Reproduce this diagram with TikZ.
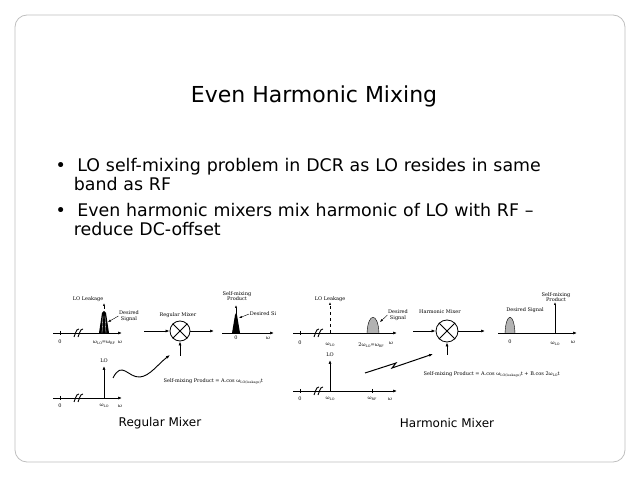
\documentclass[tikz,border=0pt]{standalone}
\usepackage{fontspec}
\setsansfont{DejaVu Sans}
\newfontfamily\tinyser{DejaVu Serif}
\usetikzlibrary{arrows.meta}
\newcommand{\sbs}[1]{\raisebox{-0.4ex}{\fontsize{3.3}{3.3}\selectfont #1}}
\begin{document}
\begin{tikzpicture}[x=1pt,y=-1pt,
  ax/.style={-{Latex[length=4pt,width=3pt]},line width=0.7pt},
  sm/.style={font=\tinyser\fontsize{5}{5.5}\selectfont,inner sep=0.5pt,align=center},
  brk/.style={line width=0.9pt},
  bul/.style={font=\sffamily\fontsize{17.4}{19}\selectfont,anchor=north west,align=left,text width=570pt},
  lbl/.style={font=\sffamily\fontsize{12}{13}\selectfont}]
\useasboundingbox (0,0) rectangle (638,478);
\draw[gray!50,rounded corners=12pt,line width=0.8pt] (15,15) rectangle (625,462);
\node[font=\sffamily\fontsize{22}{24}\selectfont] (title) at (314,96) {Even Harmonic Mixing};
\node[bul] (b1) at (52,155) {\textbullet\ \ LO self-mixing problem in DCR as LO resides in same\\\hspace*{1.05em}band as RF};
\node[bul] (b2) at (52,200) {\textbullet\ \ Even harmonic mixers mix harmonic of LO with RF --\\\hspace*{1.05em}reduce DC-offset};
\newcommand{\brksym}[2]{\draw[brk] (#1-3,#2+4) .. controls (#1,#2-4) .. (#1+2,#2-4); \draw[brk] (#1+1,#2+4) .. controls (#1+4,#2-4) .. (#1+6,#2-4);}
% ---------- left ----------
\coordinate (a1s) at (53,333); \coordinate (a1e) at (122,333);
\draw[ax] (a1s) -- (a1e);
\draw (60,331) -- (60,335); \brksym{77}{333}
\draw[dashed,line width=0.8pt,-{Latex[length=3pt]}] (104,333) -- (104,303);
\fill[black] (99,333) -- (102,313) -- (104,311) -- (106,313) -- (109,333) -- cycle;
\draw[white,line width=0.3pt] (102,333)--(103,316) (106,333)--(105,316);
\node[sm] (ll1) at (88,299) {LO Leakage};
\node[sm] (ds1) at (129,316) {Desired\\Signal};
\draw[-{Latex[length=3pt]}] (ds1.west) -- (108,322);
\node[sm] at (60,342) {0};
\node[sm] at (104,343) {ω\sbs{LO}=ω\sbs{RF}};
\node[sm] at (120,342) {ω};
% mixer
\node[draw,circle,minimum size=20pt,inner sep=0,line width=0.8pt] (m1) at (180,331) {};
\draw[line width=0.8pt] (m1.north west)--(m1.south east) (m1.north east)--(m1.south west);
\node[sm] (rm) at (178,315) {Regular Mixer};
\coordinate (m1in) at (144,331); \coordinate (m1out) at (214,331); \coordinate (m1lo) at (180,356);
\draw[ax] (m1in) -- (m1.west); \draw[ax] (m1.east) -- (m1out); \draw[ax] (m1lo) -- (m1.south);
% output spectrum 1
\draw[ax] (222,333) -- (274,333);
\draw[line width=0.8pt,-{Latex[length=3pt]}] (236,333) -- (236,305);
\fill[black] (232,333) -- (235,315) -- (236,313) -- (237,315) -- (240,333) -- cycle;
\node[sm] at (237,296) {Self-mixing\\Product};
\node[sm] (ds2) at (263,314) {Desired Si};
\draw[-{Latex[length=3pt]}] (ds2.west) -- (239,318);
\node[sm] at (236,338) {0}; \node[sm] at (268,338) {ω};
% LO 1
\draw[ax] (53,398) -- (122,398);
\draw (60,396) -- (60,400); \brksym{77}{398}
\draw[ax] (104,398) -- (104,366);
\node[sm] at (104,361) {LO};
\node[sm] at (60,406) {0}; \node[sm] at (104,406) {ω\sbs{LO}}; \node[sm] at (120,406) {ω};
\coordinate (w1s) at (113,378); \coordinate (w1e) at (170,355);
\draw[line width=0.9pt,-{Latex[length=4pt]}] (w1s) .. controls (122,360) and (128,378) .. (140,377) .. controls (150,376) and (158,364) .. (w1e);
\node[sm,anchor=west] at (163,381) {Self-mixing Product = A.cos ω\sbs{LO(leakage)}t};
% ---------- right ----------
\draw[ax] (293,333) -- (397,333);
\draw (300,331) -- (300,335); \brksym{317}{333}
\draw[dashed,line width=0.8pt,-{Latex[length=3pt]}] (330,333) -- (330,302);
\node[sm] at (330,299) {LO Leakage};
\fill[gray!60] (367,333) .. controls (368,312) and (378,312) .. (379,333) -- cycle;
\draw (367,333) .. controls (368,312) and (378,312) .. (379,333);
\node[sm] (ds3) at (398,315) {Desired\\Signal};
\draw[-{Latex[length=3pt]}] (ds3.west) -- (380,322);
\node[sm] at (300,343) {0}; \node[sm] at (330,345) {ω\sbs{LO}};
\node[sm] at (371,345) {2ω\sbs{LO}=ω\sbs{RF}}; \node[sm] at (391,343) {ω};
\node[draw,circle,minimum size=22pt,inner sep=0,line width=0.8pt] (m2) at (447,331) {};
\draw[line width=0.8pt] (m2.north west)--(m2.south east) (m2.north east)--(m2.south west);
\node[sm] (hm) at (440,312) {Harmonic Mixer};
\coordinate (m2in) at (413,331); \coordinate (m2out) at (485,331); \coordinate (m2lo) at (447,355);
\draw[ax] (m2in) -- (m2.west); \draw[ax] (m2.east) -- (m2out); \draw[ax] (m2lo) -- (m2.south);
\draw[ax] (498,333) -- (577,333);
\fill[gray!60] (505,333) .. controls (506,312) and (514,312) .. (515,333) -- cycle;
\draw (505,333) .. controls (506,312) and (514,312) .. (515,333);
\draw[line width=0.8pt,-{Latex[length=3pt]}] (555,333) -- (555,302);
\node[sm] at (525,310) {Desired Signal};
\node[sm] at (556,297) {Self-mixing\\Product};
\node[sm] at (510,342) {0}; \node[sm] at (555,344) {ω\sbs{LO}}; \node[sm] at (573,342) {ω};
\draw[ax] (293,391) -- (397,391);
\draw (300,389) -- (300,393); \brksym{317}{391}
\draw (372,389) -- (372,393);
\draw[ax] (330,391) -- (330,360);
\node[sm] at (330,355) {LO};
\node[sm] at (300,399) {0}; \node[sm] at (330,399) {ω\sbs{LO}}; \node[sm] at (372,399) {ω\sbs{RF}}; \node[sm] at (390,399) {ω};
\coordinate (z1) at (365,373); \coordinate (z2) at (433,354);
\draw[line width=1pt,-{Latex[length=4pt]}] (z1) -- (396,363) -- (392,368) -- (z2);
\node[sm,anchor=west] at (423,374) {Self-mixing Product = A.cos ω\sbs{LO(leakage)}t + B.cos 2ω\sbs{LO}t};
\node[lbl] at (160,423) {Regular Mixer};
\node[lbl] at (447,423) {Harmonic Mixer};
\end{tikzpicture}
\end{document}
